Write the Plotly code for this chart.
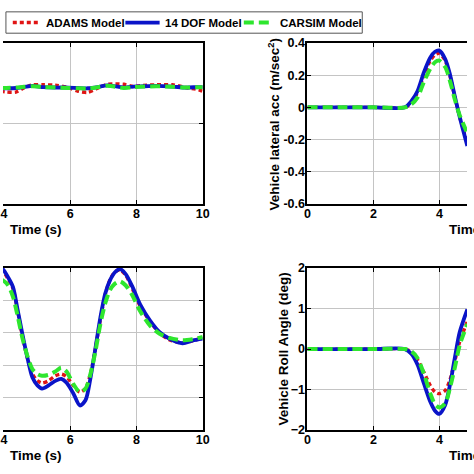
import plotly.graph_objects as go

# ---------------- data ----------------
# top-left panel (partially visible)
t_tl = [3.9, 4.07, 4.36, 4.6, 4.86, 5.2, 5.55, 5.94, 6.24, 6.53, 6.83, 7.12, 7.62, 7.91, 8.11, 8.6, 9.09, 9.49, 9.88, 10.0]
adams_tl = [0.40, 0.39, 0.39, 0.44, 0.478, 0.48, 0.475, 0.446, 0.40, 0.386, 0.437, 0.486, 0.486, 0.458, 0.47, 0.48, 0.48, 0.446, 0.418, 0.40]
dof_tl = [0.437, 0.437, 0.44, 0.452, 0.466, 0.45, 0.446, 0.446, 0.44, 0.437, 0.452, 0.473, 0.446, 0.458, 0.46, 0.466, 0.458, 0.446, 0.452, 0.45]
carsim_tl = [0.44, 0.44, 0.445, 0.455, 0.462, 0.452, 0.445, 0.44, 0.437, 0.435, 0.45, 0.468, 0.44, 0.45, 0.455, 0.462, 0.455, 0.445, 0.45, 0.448]

# bottom-left panel (partially visible)
t_bl = [3.9, 3.97, 4.12, 4.27, 4.41, 4.56, 4.71, 4.86, 5.01, 5.15, 5.35, 5.55, 5.73, 5.89, 6.09, 6.29, 6.46,
        6.61, 6.76, 6.91, 7.06, 7.2, 7.35, 7.5, 7.67, 7.87, 8.11, 8.41, 8.7, 9.0, 9.39, 9.69, 10.0]
adams_bl = [9.85, 9.55, 8.35, 6.86, 3.41, -0.63, -3.92, -6.32, -7.37, -7.74, -7.37, -6.62, -6.36, -6.77, -8.11, -9.12, -8.56,
            -6.32, -2.43, 2.07, 5.96, 8.2, 9.4, 9.7, 8.95, 6.86, 4.16, 1.77, -0.03, -1.08, -1.53, -1.23, -0.78]
dof_bl = [10.0, 9.8, 8.6, 7.1, 3.6, -0.3, -3.9, -6.9, -8.1, -8.6, -8.1, -7.4, -7.1, -7.7, -9.3, -11.2, -10.4,
          -7.0, -2.4, 2.37, 6.1, 8.1, 9.35, 9.85, 9.1, 7.2, 4.4, 1.9, 0.1, -0.9, -1.6, -1.2, -0.9]
carsim_bl = [8.2, 8.1, 7.35, 5.6, 2.67, -0.88, -3.62, -5.61, -6.36, -6.62, -6.47, -5.97, -5.37, -5.97, -7.86, -9.12, -8.61,
             -6.36, -2.87, 1.36, 4.61, 6.6, 7.6, 7.95, 7.35, 5.85, 3.37, 1.12, -0.13, -0.78, -1.12, -0.97, -0.63]

# right panels (partially visible)
t_r = [0, 1, 2, 2.95, 3.15, 3.33, 3.53, 3.72, 3.86, 3.99, 4.17, 4.32, 4.46, 4.61, 4.84]
adams_acc = [0, 0, 0, 0, 0.03, 0.09, 0.20, 0.29, 0.325, 0.335, 0.29, 0.19, 0.065, -0.06, -0.22]
dof_acc = [0, 0, 0, 0, 0.04, 0.10, 0.22, 0.31, 0.345, 0.352, 0.30, 0.20, 0.07, -0.06, -0.24]
carsim_acc = [0, 0, 0, 0, 0.02, 0.06, 0.16, 0.24, 0.28, 0.29, 0.25, 0.16, 0.05, -0.05, -0.16]

adams_roll = [0, 0, 0, 0, -0.07, -0.26, -0.58, -0.90, -1.06, -1.10, -1.02, -0.74, -0.30, 0.18, 0.68]
dof_roll = [0, 0, 0, 0, -0.12, -0.38, -0.86, -1.30, -1.52, -1.60, -1.38, -0.86, -0.22, 0.42, 0.98]
carsim_roll = [0, 0, 0, 0, -0.06, -0.22, -0.62, -1.10, -1.36, -1.44, -1.34, -0.94, -0.46, 0.10, 0.62]

series_names = ["ADAMS Model", "14 DOF Model", "CARSIM Model"]
acc_ticks = [-0.6, -0.4, -0.2, 0, 0.2, 0.4]
acc_ticktext = ["-0.6", "-0.4", "-0.2", "0", "0.2", "0.4"]

# ---------------- styles ----------------
RED = "#e01414"
BLUE = "#0a14c8"
GREEN = "#2ee62e"
styles = [dict(color=RED, width=3.4, dash="4px,3px"),
          dict(color=BLUE, width=3.8, dash="solid"),
          dict(color=GREEN, width=4.0, dash="10px,5px")]

FONT = "Liberation Sans, Arial, sans-serif"

fig = go.Figure()

panels = [
    ("x", "y", t_tl, [adams_tl, dof_tl, carsim_tl]),
    ("x2", "y2", t_r, [adams_acc, dof_acc, carsim_acc]),
    ("x3", "y3", t_bl, [adams_bl, dof_bl, carsim_bl]),
    ("x4", "y4", t_r, [adams_roll, dof_roll, carsim_roll]),
]
for pi, (xa, ya, t, ys) in enumerate(panels):
    for si, yv in enumerate(ys):
        fig.add_trace(go.Scatter(
            x=t, y=yv, xaxis=xa, yaxis=ya, mode="lines",
            line=dict(shape="spline", smoothing=0.8, **styles[si]),
            name=series_names[si], showlegend=False,
        ))

W = H = 474
def px_x(p):
    return p / W
def px_y(p):
    return 1 - p / H

LEFT_DOM = [0, px_x(204)]
RIGHT_DOM = [px_x(311), 1]
TOP_DOM = [px_y(203), px_y(37)]
BOT_DOM = [px_y(436), px_y(269)]

tickfont = dict(family=FONT, size=12.5, color="black", weight="bold")
common_x = dict(showline=True, linecolor="black", linewidth=2, mirror="ticks",
                ticks="inside", ticklen=4, tickwidth=1, tickcolor="black",
                showgrid=True, gridcolor="#c4c4c4", gridwidth=1, zeroline=False,
                tickfont=tickfont, ticklabeloverflow="allow", dtick=2, tick0=0,
                ticklabelstandoff=-3)
common_y = dict(showline=True, linecolor="black", linewidth=2,
                ticks="inside", ticklen=4, tickwidth=1, tickcolor="black",
                showgrid=True, gridcolor="#c4c4c4", gridwidth=1, zeroline=False,
                tickfont=tickfont)

fig.update_layout(
    width=W, height=H,
    margin=dict(l=0, r=0, t=0, b=0),
    paper_bgcolor="white", plot_bgcolor="white",
    font=dict(family=FONT, color="black"),
    showlegend=False,
    xaxis=dict(domain=LEFT_DOM, range=[3.97, 10], anchor="y", **common_x),
    yaxis=dict(domain=TOP_DOM, range=[-1, 1], dtick=1, anchor="x", side="right",
               showticklabels=False, **common_y),
    xaxis2=dict(domain=RIGHT_DOM, range=[0, 4.83], anchor="y2", **common_x),
    yaxis2=dict(domain=TOP_DOM, range=[-0.6, 0.4], tickvals=acc_ticks, ticktext=acc_ticktext,
                anchor="x2", ticklabelstandoff=-2, **common_y),
    xaxis3=dict(domain=LEFT_DOM, range=[3.97, 10], anchor="y3", **common_x),
    yaxis3=dict(domain=BOT_DOM, range=[-15, 10], dtick=5, anchor="x3", side="right",
                showticklabels=False, **common_y),
    xaxis4=dict(domain=RIGHT_DOM, range=[0, 4.83], anchor="y4", **common_x),
    yaxis4=dict(domain=BOT_DOM, range=[-2, 2], dtick=1, anchor="x4",
                ticklabelstandoff=-2, **common_y),
)

# ---------------- legend (box, samples, labels) ----------------
LEG_Y = px_y(16)
fig.add_shape(type="rect", xref="paper", yref="paper",
              x0=px_x(3), x1=px_x(367), y0=px_y(27), y1=px_y(5),
              line=dict(color="#555555", width=1), fillcolor="white", layer="above")
sample_pos = [(10, 37, 42), (125, 160, 163), (246, 276, 281)]
for (x0, x1, xt), st, nm in zip(sample_pos, styles, series_names):
    fig.add_shape(type="line", xref="paper", yref="paper",
                  x0=px_x(x0), x1=px_x(x1), y0=LEG_Y, y1=LEG_Y,
                  line=dict(color=st["color"], width=st["width"], dash=st["dash"]), layer="above")
    fig.add_annotation(xref="paper", yref="paper", x=px_x(xt), y=LEG_Y, text=nm,
                       xanchor="left", yanchor="middle", showarrow=False,
                       font=dict(family=FONT, size=11.5, color="black", weight="bold"))

title_font = dict(family=FONT, size=13.5, color="black", weight="bold")
ann = [
    dict(text="Time (s)", x=px_x(34), y=px_y(229), xanchor="center", yanchor="middle"),
    dict(text="Time (s)", x=px_x(34), y=px_y(462), xanchor="center", yanchor="middle"),
    dict(text="Time (s)", x=px_x(454), y=px_y(229), xanchor="left", yanchor="middle"),
    dict(text="Time (s)", x=px_x(454), y=px_y(462), xanchor="left", yanchor="middle"),
    dict(text="Vehicle lateral acc (m/sec<sup>2</sup>)", x=px_x(277), y=px_y(121),
         xanchor="center", yanchor="middle", textangle=-90),
    dict(text="Vehicle Roll Angle (deg)", x=px_x(287), y=px_y(352),
         xanchor="center", yanchor="middle", textangle=-90),
]
for a in ann:
    a.setdefault("font", title_font)
    fig.add_annotation(xref="paper", yref="paper", showarrow=False, **a)

fig.write_html("out.html")
